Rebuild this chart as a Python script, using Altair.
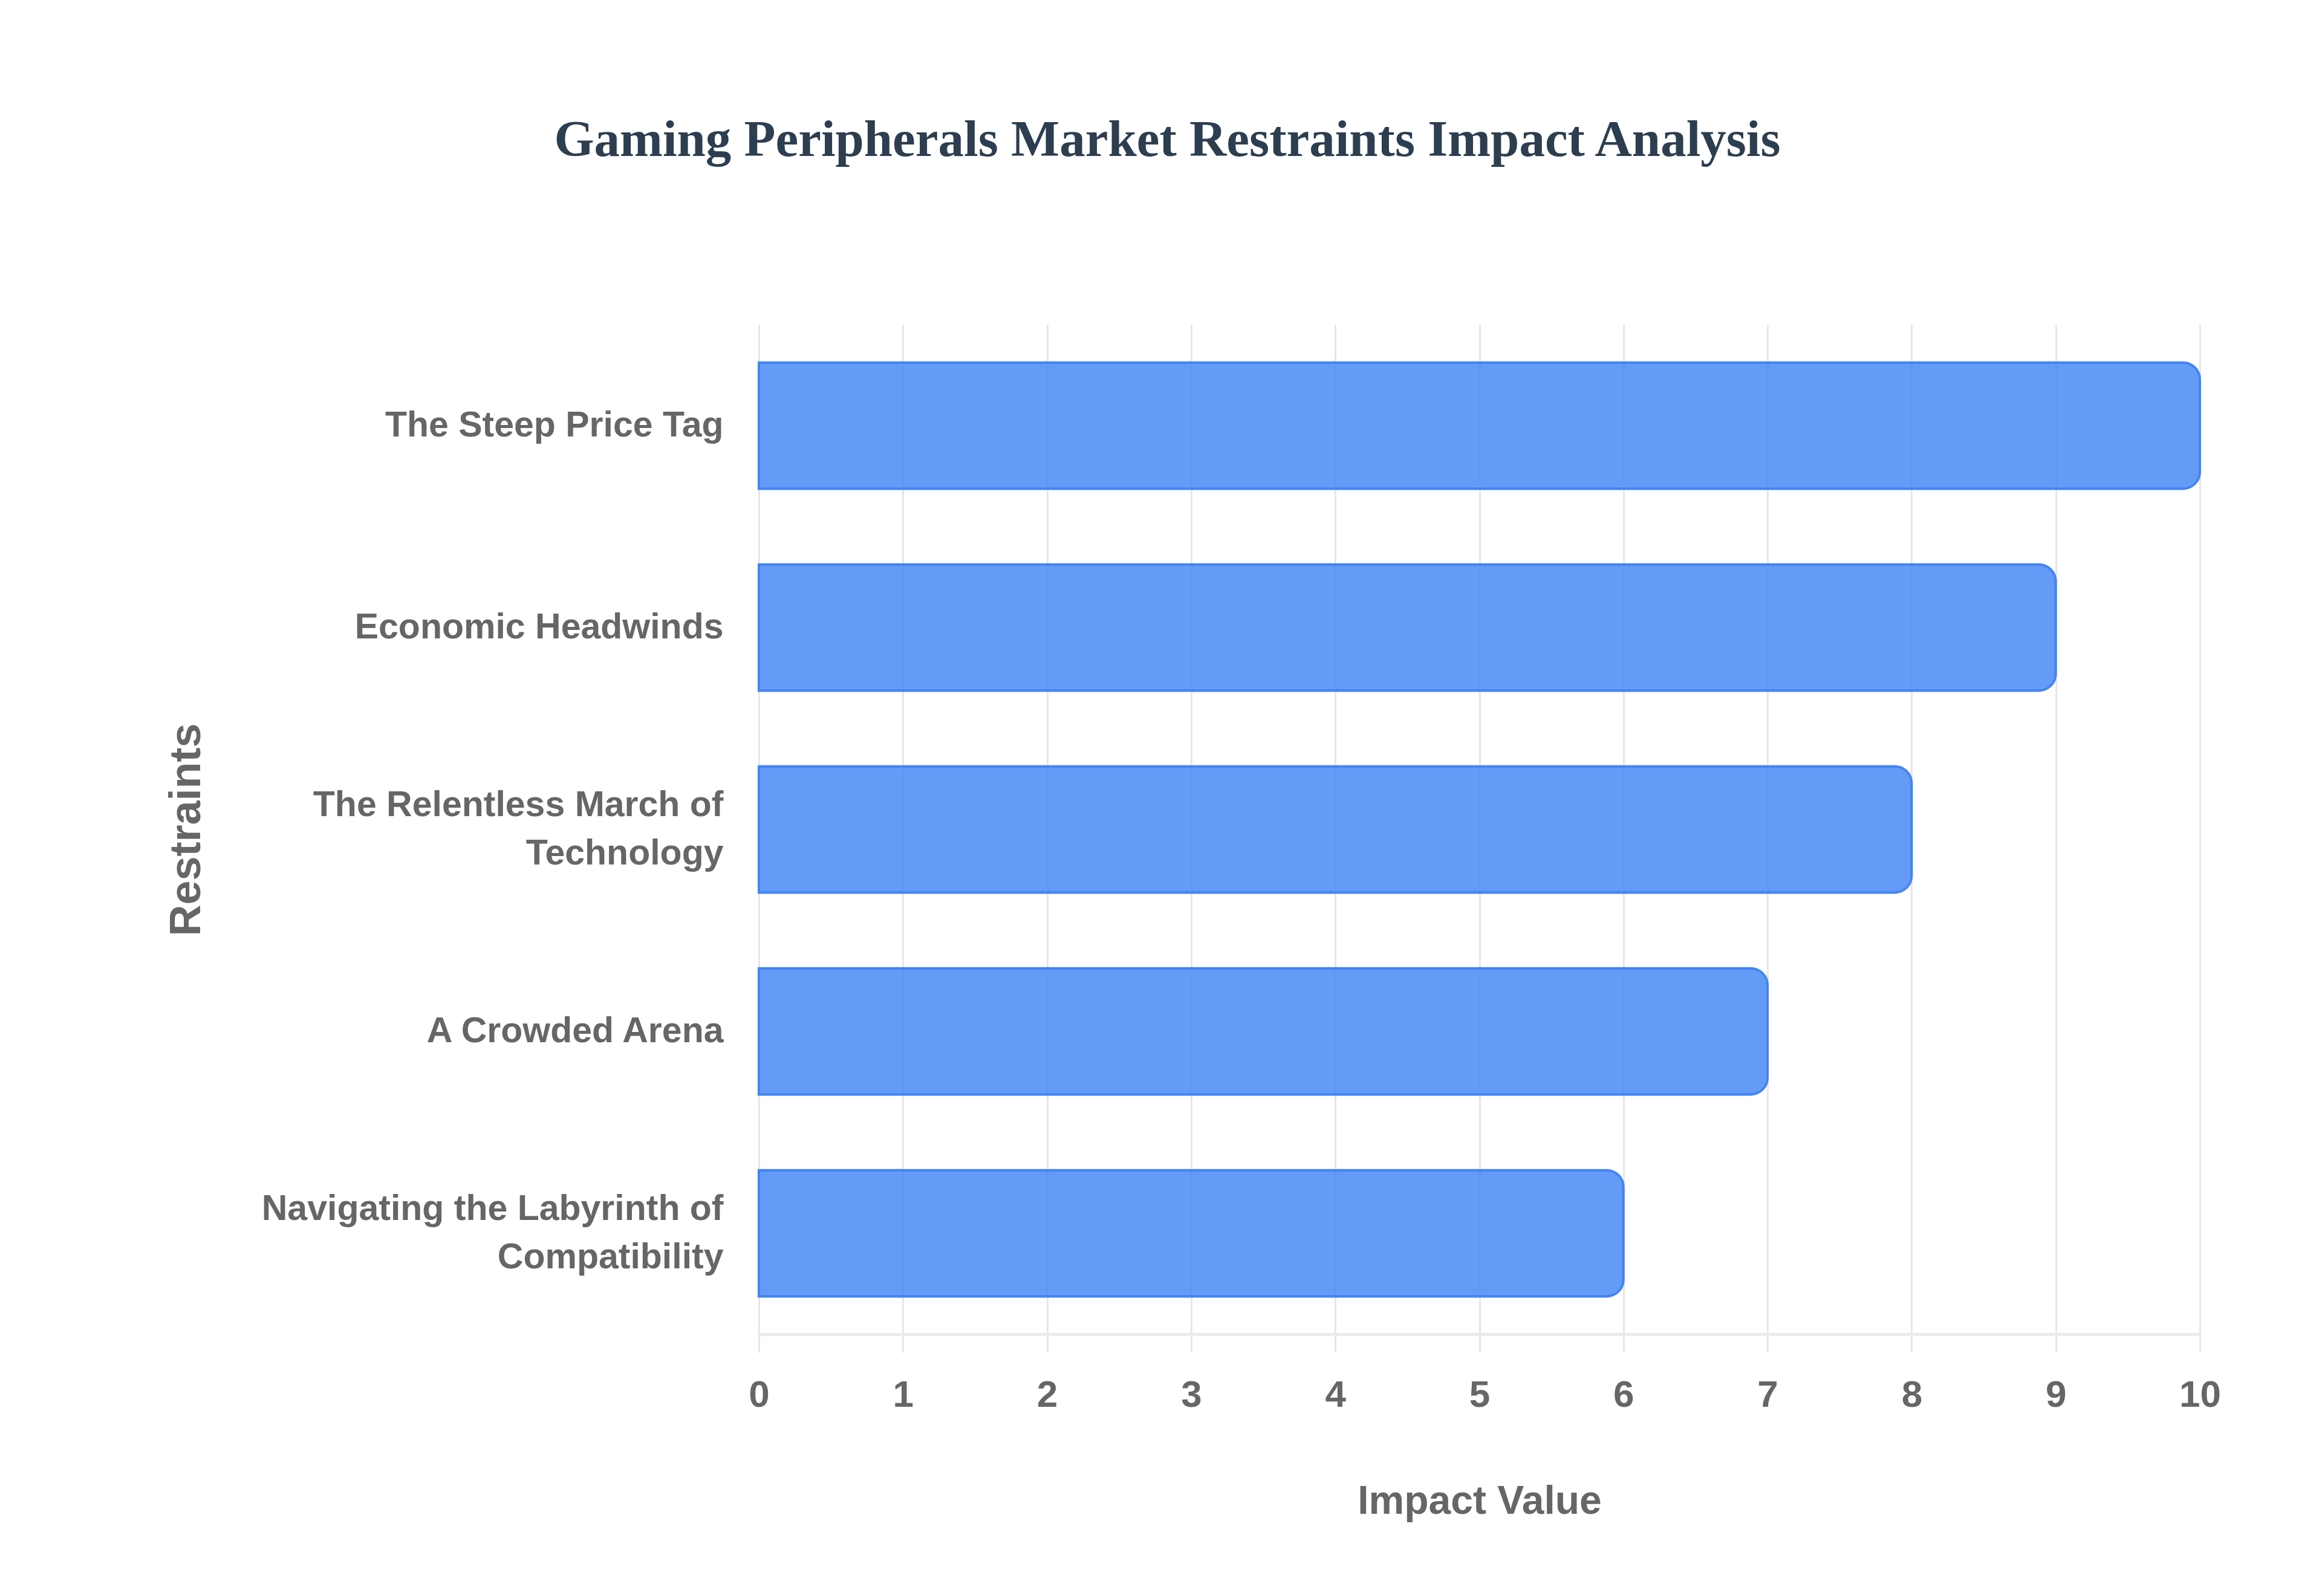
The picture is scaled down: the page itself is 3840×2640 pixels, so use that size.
import altair as alt
import pandas as pd

# ---- data ----
restraints = [
    "The Steep Price Tag",
    "Economic Headwinds",
    "The Relentless March of Technology",
    "A Crowded Arena",
    "Navigating the Labyrinth of Compatibility",
]
impact = [10, 9, 8, 7, 6]
label_lines = {
    "The Relentless March of Technology": ["The Relentless March of", "Technology"],
    "Navigating the Labyrinth of Compatibility": ["Navigating the Labyrinth of", "Compatibility"],
}
x_ticks = [0, 1, 2, 3, 4, 5, 6, 7, 8, 9, 10]

df = pd.DataFrame({"Restraint": restraints, "Impact": impact})

parts = []
for key, lines in label_lines.items():
    arr = "[" + ",".join("'" + s + "'" for s in lines) + "]"
    parts.append(f"datum.value == '{key}' ? {arr} : ")
label_expr = "".join(parts) + "datum.label"
multi_test = "indexof([" + ",".join("'" + k + "'" for k in label_lines) + "], datum.value) >= 0"

SANS = "Liberation Sans, Arial, Helvetica, sans-serif"
SERIF = "Liberation Serif, Times New Roman, serif"
GREY = "#666666"
GRID = "#e6e6e6"

chart = (
    alt.Chart(df)
    .mark_bar(
        fill="#4285f4",
        fillOpacity=0.82,
        stroke="#4285f4",
        strokeWidth=4,
        cornerRadiusEnd=28,
    )
    .encode(
        x=alt.X(
            "Impact:Q",
            scale=alt.Scale(domain=[0, 10], nice=False),
            axis=alt.Axis(
                values=x_ticks,
                format="d",
                title="Impact Value",
                grid=True,
                gridColor=GRID,
                gridWidth=3,
                ticks=True,
                tickColor=GRID,
                tickWidth=3,
                tickSize=30,
                domain=True,
                domainColor="#ebebeb",
                domainWidth=5,
                labelFlush=False,
                labelFont=SANS,
                labelFontSize=62,
                labelFontWeight="bold",
                labelColor=GREY,
                labelPadding=40,
                titleFont=SANS,
                titleFontSize=66,
                titleFontWeight="bold",
                titleColor=GREY,
                titleY=296,
                titleBaseline="alphabetic",
            ),
        ),
        y=alt.Y(
            "Restraint:N",
            sort=restraints,
            scale=alt.Scale(paddingInner=0.375, paddingOuter=0.1875),
            axis=alt.Axis(
                title="Restraints",
                ticks=False,
                tickSize=0,
                domain=False,
                grid=False,
                labelExpr=label_expr,
                labelOffset={"condition": {"test": multi_test, "value": -40}, "value": 0},
                labelFont=SANS,
                labelFontSize=59,
                labelFontWeight="bold",
                labelColor=GREY,
                labelPadding=59,
                labelLimit=2000,
                labelLineHeight=80,
                titleFont=SANS,
                titleFontSize=72,
                titleFontWeight="bold",
                titleColor=GREY,
                titleX=-925,
                titleBaseline="alphabetic",
            ),
        ),
    )
    .properties(
        width=2383,
        height=1670,
        padding={"left": 1247, "top": 529, "right": 194, "bottom": 425},
        autosize=alt.AutoSizeParams(type="none"),
        background="white",
        title=alt.TitleParams(
            text="Gaming Peripherals Market Restraints Impact Analysis",
            font=SERIF,
            fontSize=85,
            fontWeight="bold",
            color="#2c3e50",
            anchor="middle",
            frame="group",
            dx=-516,
            offset=194,
            baseline="alphabetic",
        ),
    )
    .configure_view(stroke=None)
)

chart.save("out.html", embed_options={"renderer": "svg", "actions": False})
